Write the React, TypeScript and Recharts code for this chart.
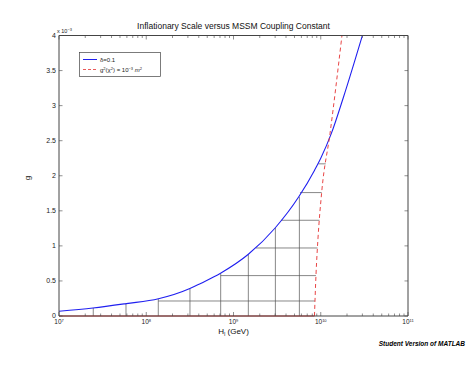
import { ComposedChart, Line, XAxis, YAxis, ReferenceLine, Legend } from 'recharts'

// x axis: H_I in GeV (log), y axis: g in units of 1e-3
const decadeValues = [1e7, 1e8, 1e9, 1e10, 1e11]
const minorMultipliers = [1, 2, 3, 4, 5, 6, 7, 8, 9]
const gTicks = [0, 0.5, 1, 1.5, 2, 2.5, 3, 3.5, 4]

// delta = 0.1 curve
const hBlue = [1e7, 2.45e7, 5.9e7, 1.38e8, 3.16e8, 4.2e8, 7.1e8, 1.48e9, 3.0e9, 5.6e9, 8.5e9, 1.0e10, 1.32e10, 1.82e10, 3.0e10]
const gBlue = [0.067, 0.114, 0.177, 0.245, 0.391, 0.465, 0.61, 0.88, 1.255, 1.7, 2.08, 2.25, 2.6, 3.12, 4.0]

// g^2(chi^2) = 1e-3 m^2
const hRed = [8.47e9, 8.83e9, 9.29e9, 1.026e10, 1.276e10, 1.75e10]
const gRed = [0, 0.6, 1.1, 1.77, 2.6, 4.0]

// vertical step lines (axis up to curve)
const hSteps = [2.47e7, 5.86e7, 1.374e8, 3.17e8, 7.13e8, 1.479e9, 3.02e9, 5.69e9]
const gStepTops = [0.114, 0.177, 0.245, 0.391, 0.61, 0.88, 1.255, 1.7]

// horizontal step lines (curve across to red line)
const gLevels = [0.214, 0.576, 0.97, 1.365, 1.76, 2.17]
const hLevelStart = [1.374e8, 7.13e8, 1.81e9, 3.5e9, 5.78e9, 9.38e9]
const hLevelEnd = [8.59e9, 8.81e9, 9.17e9, 9.66e9, 1.025e10, 1.14e10]

const blueData = hBlue.map((h, i) => ({ h, g: gBlue[i] }))
const redData = hRed.map((h, i) => ({ h, g: gRed[i] }))

const xTicks = [
  ...decadeValues.slice(0, -1).flatMap((d) => minorMultipliers.map((m) => m * d)),
  decadeValues[decadeValues.length - 1],
]

const axisColor = '#444'
const gridColor = '#555'

function isMajor(v: number) {
  const e = Math.round(Math.log10(v))
  return Math.abs(v - Math.pow(10, e)) < 1e-6 * v
}

function BottomTick(props: any) {
  const { x, y, payload } = props
  const v = payload.value
  const major = isMajor(v)
  const exp = Math.round(Math.log10(v))
  return (
    <g>
      <line x1={x} x2={x} y1={y} y2={y - (major ? 4 : 2.5)} stroke={axisColor} strokeWidth={0.6} />
      {major && (
        <text x={x} y={y + 8} textAnchor='middle' fontSize={6.5} fill='#222'>
          10<tspan dy={-2.5} fontSize={4}>{exp}</tspan>
        </text>
      )}
    </g>
  )
}

function TopTick(props: any) {
  const { x, y, payload } = props
  const major = isMajor(payload.value)
  return <line x1={x} x2={x} y1={y} y2={y + (major ? 4 : 2.5)} stroke={axisColor} strokeWidth={0.6} />
}

function LeftTick(props: any) {
  const { x, y, payload } = props
  return (
    <g>
      <line x1={x} x2={x + 3.5} y1={y} y2={y} stroke={axisColor} strokeWidth={0.6} />
      <text x={x - 3} y={y} dy='0.35em' textAnchor='end' fontSize={7} fill='#222'>
        {payload.value}
      </text>
    </g>
  )
}

function RightTick(props: any) {
  const { x, y } = props
  return <line x1={x} x2={x - 3.5} y1={y} y2={y} stroke={axisColor} strokeWidth={0.6} />
}

function LegendBox() {
  return (
    <svg width={82} height={25} style={{ display: 'block' }}>
      <rect x={0.5} y={0.5} width={81} height={24} fill='#fff' stroke={axisColor} strokeWidth={0.7} />
      <line x1={4} x2={18} y1={7.5} y2={7.5} stroke='#2020f0' strokeWidth={1} />
      <text x={21} y={10} fontSize={6} fill='#222'>δ=0.1</text>
      <line x1={4} x2={18} y1={17.5} y2={17.5} stroke='#e53030' strokeWidth={0.8} strokeDasharray='3 2' />
      <text x={21} y={20} fontSize={6} fill='#222'>
        g<tspan dy={-2.5} fontSize={4}>2</tspan>
        <tspan dy={2.5}>(χ</tspan>
        <tspan dy={-2.5} fontSize={4}>2</tspan>
        <tspan dy={2.5}>) = 10</tspan>
        <tspan dy={-2.5} fontSize={4}>−3</tspan>
        <tspan dy={2.5} fontStyle='italic'> m</tspan>
        <tspan dy={-2.5} fontSize={4}>2</tspan>
      </text>
    </svg>
  )
}

export default function App() {
  return (
    <div
      style={{
        position: 'absolute',
        left: 0,
        top: 0,
        width: 474,
        height: 366,
        background: '#fff',
        fontFamily: '"Liberation Sans", Arial, sans-serif',
      }}
    >
      <ComposedChart width={474} height={366} margin={{ top: 34.5, right: 65, bottom: 20, left: 0 }}>
        <XAxis
          dataKey='h'
          type='number'
          scale='log'
          domain={[1e7, 1e11]}
          allowDataOverflow
          ticks={xTicks}
          interval={0}
          tick={BottomTick}
          tickSize={0}
          tickMargin={0}
          tickLine={false}
          height={30}
          stroke={axisColor}
        />
        <XAxis
          xAxisId='top'
          orientation='top'
          dataKey='h'
          type='number'
          scale='log'
          domain={[1e7, 1e11]}
          allowDataOverflow
          ticks={xTicks}
          interval={0}
          tick={TopTick}
          tickSize={0}
          tickMargin={0}
          tickLine={false}
          height={1}
          stroke={axisColor}
        />
        <YAxis
          type='number'
          domain={[0, 4]}
          allowDataOverflow
          ticks={gTicks}
          interval={0}
          tick={LeftTick}
          tickSize={0}
          tickMargin={0}
          tickLine={false}
          width={59}
          stroke={axisColor}
        />
        <YAxis
          yAxisId='right'
          orientation='right'
          type='number'
          domain={[0, 4]}
          allowDataOverflow
          ticks={gTicks}
          interval={0}
          tick={RightTick}
          tickSize={0}
          tickMargin={0}
          tickLine={false}
          width={1}
          stroke={axisColor}
        />
        {hSteps.map((h, i) => (
          <ReferenceLine
            key={'v' + i}
            segment={[{ x: h, y: 0 }, { x: h, y: gStepTops[i] }]}
            stroke={gridColor}
            strokeWidth={0.7}
          />
        ))}
        {gLevels.map((g, i) => (
          <ReferenceLine
            key={'hz' + i}
            segment={[{ x: hLevelStart[i], y: g }, { x: hLevelEnd[i], y: g }]}
            stroke={gridColor}
            strokeWidth={0.7}
          />
        ))}
        <ReferenceLine segment={[{ x: 1e7, y: 0 }, { x: hRed[0], y: 0 }]} stroke='#e53030' strokeWidth={1} />
        <Line
          data={blueData}
          dataKey='g'
          name='δ=0.1'
          type='monotone'
          stroke='#2020f0'
          strokeWidth={1.1}
          dot={false}
          isAnimationActive={false}
        />
        <Line
          data={redData}
          dataKey='g'
          name='g²(χ²) = 10⁻³ m²'
          type='monotone'
          stroke='#e53030'
          strokeWidth={0.9}
          strokeDasharray='4 3'
          dot={false}
          isAnimationActive={false}
        />
        <Legend
          layout='vertical'
          align='center'
          verticalAlign='middle'
          content={() => <LegendBox />}
          wrapperStyle={{ position: 'absolute', left: 79, top: 52, width: 82, height: 25 }}
        />
      </ComposedChart>
      <svg
        width={474}
        height={366}
        style={{ position: 'absolute', left: 0, top: 0, pointerEvents: 'none' }}
      >
        <text x={233.5} y={29} textAnchor='middle' fontSize={8.5} fill='#111'>
          Inflationary Scale versus MSSM Coupling Constant
        </text>
        <text x={57} y={33} fontSize={5.5} fill='#222'>
          x 10<tspan dy={-2.5} fontSize={4}>−3</tspan>
        </text>
        <text x={30} y={178} textAnchor='middle' fontSize={8} fill='#111' transform='rotate(-90 30 178)'>
          g
        </text>
        <text x={233.5} y={334} textAnchor='middle' fontSize={8} fill='#111'>
          H<tspan dy={2} fontSize={5}>I</tspan>
          <tspan dy={-2}> (GeV)</tspan>
        </text>
        <text x={465} y={346} textAnchor='end' fontSize={6.5} fontWeight='bold' fontStyle='italic' fill='#000'>
          Student Version of MATLAB
        </text>
      </svg>
    </div>
  )
}
